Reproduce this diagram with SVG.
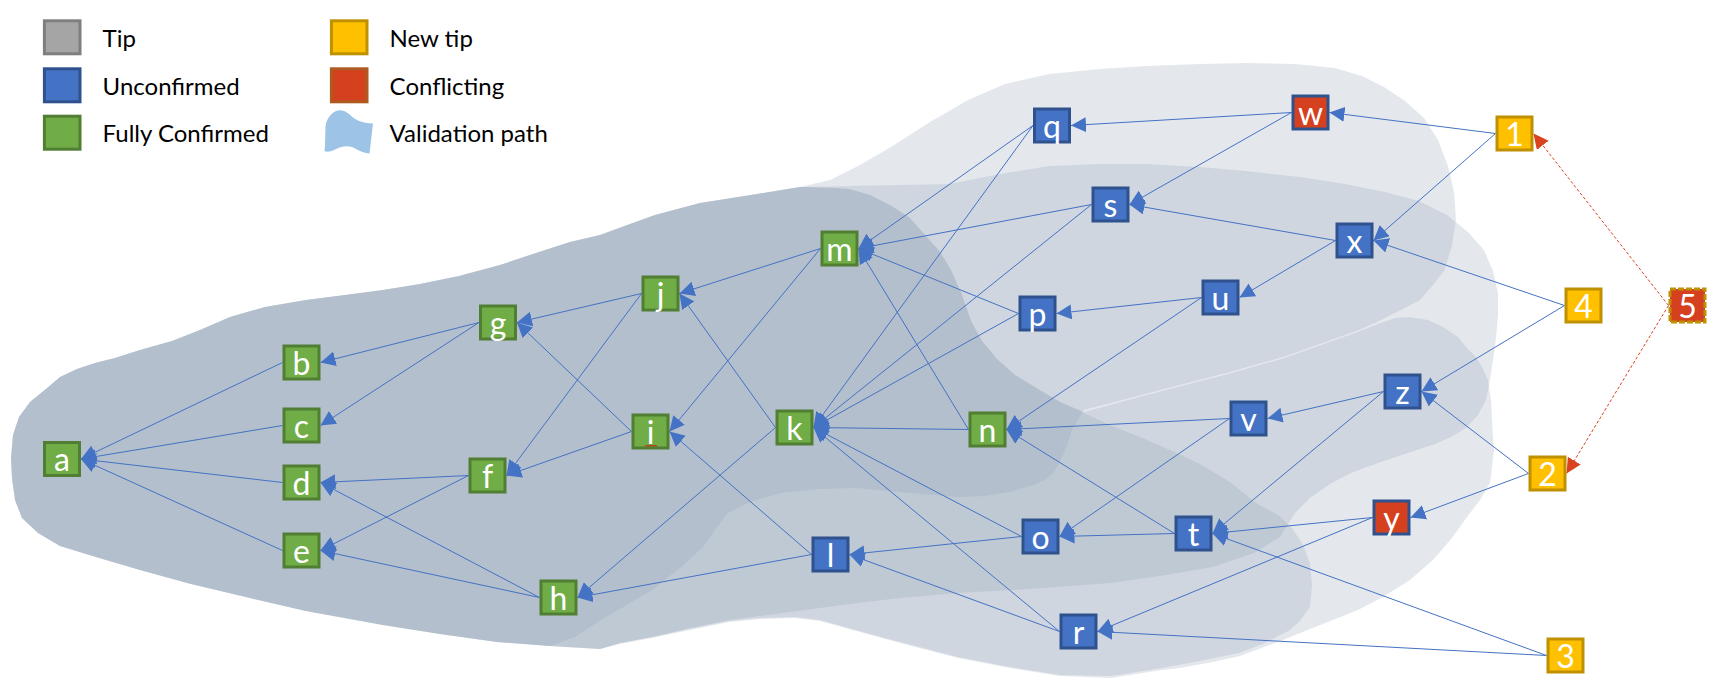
<svg xmlns="http://www.w3.org/2000/svg" width="1724" height="686" viewBox="0 0 1724 686">
<style>
.bg{fill:#8F9FB4;fill-opacity:0.24;stroke:none}
.e{stroke:#4472C4;stroke-width:1;fill:none;marker-end:url(#arr)}
.er{stroke:#D9431F;stroke-width:1;fill:none;stroke-dasharray:3 2;marker-end:url(#arrR)}
.n rect{stroke-width:3}
.g rect{fill:#70AD47;stroke:#507E32}
.u rect{fill:#4472C4;stroke:#2F528F}
.c rect{fill:#D5401F;stroke:#2F528F}
.t rect{fill:#FFC000;stroke:#BF9000}
.x rect{fill:#D5401F;stroke:#BF9000;stroke-dasharray:6 2}
.n text{font-family:Lato,'Liberation Sans',sans-serif;font-size:32px;fill:#fff;text-anchor:middle}
.lg{font-family:Lato,'Liberation Sans',sans-serif;font-size:24px;fill:#000}
</style>
<defs>
<marker id="arr" markerUnits="userSpaceOnUse" markerWidth="15" markerHeight="15" viewBox="0 0 15 15" refX="15" refY="7.5" orient="auto"><path d="M0,0 L15,7.5 L0,15 z" fill="#4472C4"/></marker>
<marker id="arrR" markerUnits="userSpaceOnUse" markerWidth="15" markerHeight="15" viewBox="0 0 15 15" refX="15" refY="7.5" orient="auto"><path d="M0,0 L15,7.5 L0,15 z" fill="#D9431F"/></marker>
</defs>

<g id="validation-paths">
<path id="path1" class="bg" d="M550,646 L497,642 440,634 383,625 306,611 250,598 191,584 140,570 96,557 60,546 38,533 22,518 15,500 12,478 11,458 13,435 19,417 30,402 46,389 60,377 77,369 95,363 115,358 140,350 172,341 200,330 230,317 265,307 306,300 345,295 383,290 420,284 459,276 500,265 536,253 570,242 600,235 630,224 655,215 700,203 757,194 800,187 830,180 860,165 891,147 930,122 968,100 1005,84 1049,74 1100,69 1147,66 1200,64 1246,63 1295,64 1335,68 1362,76 1384,87 1405,101 1424,118 1438,140 1448,166 1454,192 1456,219 1452,246 1444,271 1433,285 1420,300 1397,312 1375,323 1359,330 1320,344 1283,357 1230,372 1168,388 1130,398 1084,410 1078,420 1072,430 1068,442 1064,453 1058,465 1053,473 1045,480 1030,486 1009,492 985,496 958,497 910,493 856,488 820,489 780,493 750,502 728,513 715,530 703,547 680,568 652,590 625,606 601,620 575,637 Z"/>
<path id="path4" class="bg" d="M600,649 L550,646 497,642 440,634 383,625 306,611 250,598 191,584 140,570 96,557 60,546 38,533 22,518 15,500 12,478 11,458 13,435 19,417 30,402 46,389 60,377 77,369 95,363 115,358 140,350 172,341 200,330 230,317 265,307 306,300 345,295 383,290 420,284 459,276 500,265 536,253 570,242 600,235 630,224 655,215 700,203 757,194 800,187 850,186 900,185 950,184 1000,174 1049,166 1100,164 1147,164 1200,167 1246,171 1300,177 1345,184 1385,192 1419,201 1447,215 1468,232 1484,250 1493,271 1498,293 1498,315 1496,338 1493,360 1490,380 1486,400 1478,415 1466,428 1451,437 1435,444 1417,450 1378,463 1351,473 1330,484 1310,498 1295,513 1280,537 1254,553 1213,567 1160,576 1111,583 1030,589 958,593 900,598 850,604 805,610 760,616 729,620 690,628 652,637 620,643 Z"/>
<path id="path3" class="bg" d="M600,649 L550,646 497,642 440,634 383,625 306,611 250,598 191,584 140,570 96,557 60,546 38,533 22,518 15,500 12,478 11,458 13,435 19,417 30,402 46,389 60,377 77,369 95,363 115,358 140,350 172,341 200,330 230,317 265,307 306,300 345,295 383,290 420,284 459,276 500,265 536,253 570,242 600,235 630,224 655,215 700,203 757,194 800,187 834,188 849,189 870,195 890,205 910,218 925,235 940,252 951,270 962,295 971,321 982,341 997,359 1015,375 1038,389 1060,402 1084,413 1110,425 1140,437 1170,450 1200,464 1230,482 1256,503 1278,515 1292,528 1303,545 1310,563 1312,585 1310,607 1300,621 1290,630 1265,643 1239,653 1200,661 1162,668 1111,676 1060,675 1010,667 958,657 900,642 856,630 820,620 795,617 760,618 729,621 690,629 652,637 620,643 Z"/>
<path id="path2" class="bg" d="M600,649 L550,646 497,642 440,634 383,625 306,611 250,598 191,584 140,570 96,557 60,546 38,533 22,518 15,500 12,478 11,458 13,435 19,417 30,402 46,389 60,377 77,369 95,363 115,358 140,350 172,341 200,330 230,317 265,307 306,300 345,295 383,290 420,284 459,276 500,265 536,253 570,242 600,235 630,224 655,215 700,203 757,194 800,187 834,188 849,189 870,195 890,205 910,218 925,235 940,252 951,270 962,295 971,321 982,341 997,359 1015,375 1038,389 1060,402 1084,412 1086,411.5 1130,399.5 1168,389.5 1230,373.5 1283,358.5 1320,345.5 1359,331.5 1378,324 1395,318 1409,317 1428,320 1443,327 1458,337 1466,347 1476,357 1482,367 1488,380 1491,400 1493,437 1494,450 1490,483 1480,500 1467,517 1452,538 1433,560 1410,580 1383,597 1358,610 1333,620 1305,631 1283,640 1264,647 1240,656 1213,662 1180,668 1162,670 1111,678 1060,676 1010,668 958,658 900,643 856,631 820,621 795,618 760,619 729,622 690,630 652,638 620,644 Z"/>
</g>

<g id="legend">
<rect x="44.4" y="20.8" width="35.6" height="33" fill="#A5A5A5" stroke="#7F7F7F" stroke-width="3"/>
<text class="lg" x="102.6" y="46.7">Tip</text>
<rect x="44.4" y="68.8" width="35.6" height="33" fill="#4472C4" stroke="#2F528F" stroke-width="3"/>
<text class="lg" x="102.6" y="94.7">Unconfirmed</text>
<rect x="44.4" y="116.2" width="35.6" height="33" fill="#70AD47" stroke="#507E32" stroke-width="3"/>
<text class="lg" x="102.6" y="141.7">Fully Confirmed</text>
<rect x="331.4" y="20.8" width="35.6" height="33" fill="#FFC000" stroke="#BF9000" stroke-width="3"/>
<text class="lg" x="389.6" y="46.7">New tip</text>
<rect x="331.4" y="68.8" width="35.6" height="33" fill="#D5401F" stroke="#AE5A21" stroke-width="3"/>
<text class="lg" x="389.6" y="94.7">Conflicting</text>
<path d="M325,145 L325.5,127 C326,120 330,114 336,111 C341,109 345,111 349,114 C354,119 360,123 373,123.5 L369.5,153.5 C363,153 358,150 352,147 C346,145 340,147 334,150 C330,152 326,152 324.5,151 Z" fill="#9DC3E6"/>
<text class="lg" x="389.6" y="141.7">Validation path</text>
</g>

<g id="connectors">
<line class="e" x1="282.5" y1="362.5" x2="81" y2="459"/>
<line class="e" x1="282.5" y1="425.5" x2="81" y2="459"/>
<line class="e" x1="282.5" y1="482.5" x2="81" y2="459"/>
<line class="e" x1="282.5" y1="550.5" x2="81" y2="459"/>
<line class="e" x1="479" y1="322.5" x2="320.5" y2="362.5"/>
<line class="e" x1="479" y1="322.5" x2="320.5" y2="425.5"/>
<line class="e" x1="468.5" y1="475.5" x2="320.5" y2="482.5"/>
<line class="e" x1="468.5" y1="475.5" x2="320.5" y2="550.5"/>
<line class="e" x1="539.5" y1="597.5" x2="320.5" y2="482.5"/>
<line class="e" x1="539.5" y1="597.5" x2="320.5" y2="550.5"/>
<line class="e" x1="641.5" y1="293.5" x2="517" y2="322.5"/>
<line class="e" x1="631.5" y1="431.5" x2="517" y2="322.5"/>
<line class="e" x1="641.5" y1="293.5" x2="506.5" y2="475.5"/>
<line class="e" x1="631.5" y1="431.5" x2="506.5" y2="475.5"/>
<line class="e" x1="775.5" y1="427.5" x2="577.5" y2="597.5"/>
<line class="e" x1="811.5" y1="554.5" x2="577.5" y2="597.5"/>
<line class="e" x1="820.5" y1="248.5" x2="679.5" y2="293.5"/>
<line class="e" x1="775.5" y1="427.5" x2="679.5" y2="293.5"/>
<line class="e" x1="820.5" y1="248.5" x2="669.5" y2="431.5"/>
<line class="e" x1="811.5" y1="554.5" x2="669.5" y2="431.5"/>
<line class="e" x1="1033" y1="125.5" x2="858.5" y2="248.5"/>
<line class="e" x1="1091.5" y1="204.5" x2="858.5" y2="248.5"/>
<line class="e" x1="1018.5" y1="313.5" x2="858.5" y2="248.5"/>
<line class="e" x1="968.5" y1="429.5" x2="858.5" y2="248.5"/>
<line class="e" x1="1033" y1="125.5" x2="813.5" y2="427.5"/>
<line class="e" x1="1091.5" y1="204.5" x2="813.5" y2="427.5"/>
<line class="e" x1="1018.5" y1="313.5" x2="813.5" y2="427.5"/>
<line class="e" x1="968.5" y1="429.5" x2="813.5" y2="427.5"/>
<line class="e" x1="1021.5" y1="536.5" x2="813.5" y2="427.5"/>
<line class="e" x1="1059.5" y1="631.5" x2="813.5" y2="427.5"/>
<line class="e" x1="1021.5" y1="536.5" x2="849.5" y2="554.5"/>
<line class="e" x1="1059.5" y1="631.5" x2="849.5" y2="554.5"/>
<line class="e" x1="1201.5" y1="297.5" x2="1056.5" y2="313.5"/>
<line class="e" x1="1201.5" y1="297.5" x2="1006.5" y2="429.5"/>
<line class="e" x1="1229.5" y1="418.5" x2="1006.5" y2="429.5"/>
<line class="e" x1="1174.5" y1="533.5" x2="1006.5" y2="429.5"/>
<line class="e" x1="1229.5" y1="418.5" x2="1059.5" y2="536.5"/>
<line class="e" x1="1174.5" y1="533.5" x2="1059.5" y2="536.5"/>
<line class="e" x1="1291.5" y1="112.5" x2="1071" y2="125.5"/>
<line class="e" x1="1291.5" y1="112.5" x2="1129.5" y2="204.5"/>
<line class="e" x1="1335.5" y1="240.5" x2="1129.5" y2="204.5"/>
<line class="e" x1="1335.5" y1="240.5" x2="1239.5" y2="297.5"/>
<line class="e" x1="1383.5" y1="391.5" x2="1267.5" y2="418.5"/>
<line class="e" x1="1383.5" y1="391.5" x2="1212.5" y2="533.5"/>
<line class="e" x1="1372.5" y1="517.5" x2="1212.5" y2="533.5"/>
<line class="e" x1="1372.5" y1="517.5" x2="1097.5" y2="631.5"/>
<line class="e" x1="1546.5" y1="655.5" x2="1212.5" y2="533.5"/>
<line class="e" x1="1546.5" y1="655.5" x2="1097.5" y2="631.5"/>
<line class="e" x1="1495.5" y1="133.5" x2="1329.5" y2="112.5"/>
<line class="e" x1="1495.5" y1="133.5" x2="1373.5" y2="240.5"/>
<line class="e" x1="1564.5" y1="305.5" x2="1373.5" y2="240.5"/>
<line class="e" x1="1564.5" y1="305.5" x2="1421.5" y2="391.5"/>
<line class="e" x1="1528.5" y1="473.5" x2="1421.5" y2="391.5"/>
<line class="e" x1="1528.5" y1="473.5" x2="1410.5" y2="517.5"/>
<line class="er" x1="1668.5" y1="305.5" x2="1533.5" y2="133.5"/>
<line class="er" x1="1668.5" y1="305.5" x2="1566.5" y2="473.5"/>
</g>

<g id="node-a" class="n g"><rect x="44.5" y="442.5" width="35" height="33"/><text x="62" y="471">a</text></g>
<g id="node-b" class="n g"><rect x="284" y="346" width="35" height="33"/><text x="301.5" y="374.5">b</text></g>
<g id="node-c" class="n g"><rect x="284" y="409" width="35" height="33"/><text x="301.5" y="437.5">c</text></g>
<g id="node-d" class="n g"><rect x="284" y="466" width="35" height="33"/><text x="301.5" y="494.5">d</text></g>
<g id="node-e" class="n g"><rect x="284" y="534" width="35" height="33"/><text x="301.5" y="562.5">e</text></g>
<g id="node-f" class="n g"><rect x="470" y="459" width="35" height="33"/><text x="487.5" y="487.5">f</text></g>
<g id="node-g" class="n g"><rect x="480.5" y="306" width="35" height="33"/><text x="498" y="334.5">g</text></g>
<g id="node-h" class="n g"><rect x="541" y="581" width="35" height="33"/><text x="558.5" y="609.5">h</text></g>
<g id="node-i" class="n g"><rect x="633" y="415" width="35" height="33"/><text x="650.5" y="443.5">i</text><path d="M645,446.5 l1.5,-1.5 l1.5,1.5 l1.5,-1.5 l1.5,1.5 l1.5,-1.5 l1.5,1.5 l1.5,-1.5 l1.5,1.5" stroke="#E00000" stroke-width="1" fill="none"/></g>
<g id="node-j" class="n g"><rect x="643" y="277" width="35" height="33"/><text x="660.5" y="305.5">j</text></g>
<g id="node-k" class="n g"><rect x="777" y="411" width="35" height="33"/><text x="794.5" y="439.5">k</text></g>
<g id="node-l" class="n u"><rect x="813" y="538" width="35" height="33"/><text x="830.5" y="566.5">l</text></g>
<g id="node-m" class="n g"><rect x="822" y="232" width="35" height="33"/><text x="839.5" y="260.5">m</text></g>
<g id="node-n" class="n g"><rect x="970" y="413" width="35" height="33"/><text x="987.5" y="441.5">n</text></g>
<g id="node-o" class="n u"><rect x="1023" y="520" width="35" height="33"/><text x="1040.5" y="548.5">o</text></g>
<g id="node-p" class="n u"><rect x="1020" y="297" width="35" height="33"/><text x="1037.5" y="325.5">p</text></g>
<g id="node-q" class="n u"><rect x="1034.5" y="109" width="35" height="33"/><text x="1052" y="137.5">q</text></g>
<g id="node-r" class="n u"><rect x="1061" y="615" width="35" height="33"/><text x="1078.5" y="643.5">r</text></g>
<g id="node-s" class="n u"><rect x="1093" y="188" width="35" height="33"/><text x="1110.5" y="216.5">s</text></g>
<g id="node-t" class="n u"><rect x="1176" y="517" width="35" height="33"/><text x="1193.5" y="545.5">t</text></g>
<g id="node-u" class="n u"><rect x="1203" y="281" width="35" height="33"/><text x="1220.5" y="309.5">u</text></g>
<g id="node-v" class="n u"><rect x="1231" y="402" width="35" height="33"/><text x="1248.5" y="430.5">v</text></g>
<g id="node-w" class="n c"><rect x="1293" y="96" width="35" height="33"/><text x="1310.5" y="124.5">w</text></g>
<g id="node-x" class="n u"><rect x="1337" y="224" width="35" height="33"/><text x="1354.5" y="252.5">x</text></g>
<g id="node-y" class="n c"><rect x="1374" y="501" width="35" height="33"/><text x="1391.5" y="529.5">y</text></g>
<g id="node-z" class="n u"><rect x="1385" y="375" width="35" height="33"/><text x="1402.5" y="403.5">z</text></g>
<g id="node-1" class="n t"><rect x="1497" y="117" width="35" height="33"/><text x="1514.5" y="145.5">1</text></g>
<g id="node-2" class="n t"><rect x="1530" y="457" width="35" height="33"/><text x="1547.5" y="485.5">2</text></g>
<g id="node-3" class="n t"><rect x="1548" y="639" width="35" height="33"/><text x="1565.5" y="667.5">3</text></g>
<g id="node-4" class="n t"><rect x="1566" y="289" width="35" height="33"/><text x="1583.5" y="317.5">4</text></g>
<g id="node-5" class="n x"><rect x="1670" y="289" width="35" height="33"/><text x="1687.5" y="317.5">5</text></g>
</svg>
